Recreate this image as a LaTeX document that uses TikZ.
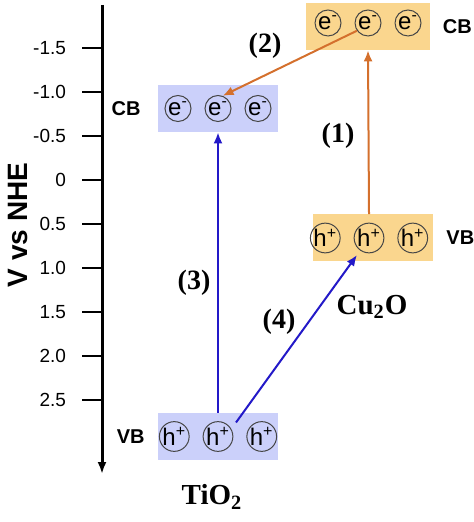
\documentclass[tikz,border=0pt]{standalone}
\usepackage{fontspec}
\setmainfont{Liberation Serif}
\setsansfont{Liberation Sans}
\usetikzlibrary{positioning,arrows.meta}
\definecolor{BandBlue}{RGB}{203,208,250}
\definecolor{BandOrange}{RGB}{250,214,142}
\definecolor{ArrowBlue}{RGB}{35,25,200}
\definecolor{ArrowOrange}{RGB}{212,112,45}
\definecolor{RingGray}{RGB}{70,70,70}

\begin{document}
\begin{tikzpicture}[x=0.5pt, y=-0.5pt, node distance=6.5pt,
    band/.style={rectangle, minimum width=60pt, minimum height=23.5pt, inner sep=0pt},
    carrier/.style={circle, draw=RingGray, line width=0.5pt, minimum size=13pt, inner sep=0pt, font=\sffamily\fontsize{12}{12}\selectfont},
    bandlabel/.style={font=\sffamily\bfseries\fontsize{10}{10}\selectfont},
    steplabel/.style={font=\bfseries\fontsize{14}{14}\selectfont},
    ticklabel/.style={font=\sffamily\fontsize{9.5}{9.5}\selectfont},
    transfer/.style={line width=1pt, -{Latex[length=5.5pt,width=4.5pt]}}]
    \useasboundingbox (0,0) rectangle (474,522);

    % potential axis
    \coordinate (axtop) at (102,5);
    \coordinate (axbot) at (102,474);
    \draw[line width=1.5pt, -{Latex[length=6pt,width=4.5pt]}] (axtop) -- (axbot);
    \foreach \v in {-1.5,-1.0,-0.5,0,0.5,1.0,1.5,2.0,2.5} {
      \coordinate (tick) at (102,{180+88*(\v)});
      \draw[line width=1.4pt] (tick) -- ++(-20,0) node[ticklabel, left=4pt] {\v};
    }
    \node[rotate=90, font=\sffamily\bfseries\fontsize{14}{14}\selectfont] (vaxis) at (18,225) {V vs NHE};

    % TiO2 bands
    \node[band, fill=BandBlue] (tcb) at (218,108.5) {};
    \node[carrier] (tcb2) at (tcb) {e\textsuperscript{-}};
    \node[carrier, left=of tcb2] (tcb1) {e\textsuperscript{-}};
    \node[carrier, right=of tcb2] (tcb3) {e\textsuperscript{-}};
    \node[bandlabel, left=5pt of tcb] (tcblabel) {CB};

    \node[band, fill=BandBlue] (tvb) at (218,436.5) {};
    \node[carrier] (tvb2) at (tvb) {h\textsuperscript{+}};
    \node[carrier, left=of tvb2] (tvb1) {h\textsuperscript{+}};
    \node[carrier, right=of tvb2] (tvb3) {h\textsuperscript{+}};
    \node[bandlabel, left=3pt of tvb] (tvblabel) {VB};

    \node[font=\bfseries\fontsize{14.5}{14.5}\selectfont] (tio2) at (212,497) {TiO\textsubscript{2}};

    % Cu2O bands
    \node[band, fill=BandOrange, minimum width=62pt] (cucb) at (367.5,26.5) {};
    \node[carrier] (cucb2) at (368,23) {e\textsuperscript{-}};
    \node[carrier, left=of cucb2] (cucb1) {e\textsuperscript{-}};
    \node[carrier, right=of cucb2] (cucb3) {e\textsuperscript{-}};
    \node[bandlabel, right=3pt of cucb] (cucblabel) {CB};

    \node[band, fill=BandOrange] (cuvb) at (373,238) {};
    \node[carrier] (cuvb2) at (369,238) {h\textsuperscript{+}};
    \node[carrier, left=of cuvb2] (cuvb1) {h\textsuperscript{+}};
    \node[carrier, right=of cuvb2] (cuvb3) {h\textsuperscript{+}};
    \node[bandlabel, right=3pt of cuvb] (cuvblabel) {VB};

    \node[font=\bfseries\fontsize{14.5}{14.5}\selectfont] (cu2o) at (372,307) {Cu\textsubscript{2}O};

    % charge transfer
    \draw[transfer, ArrowOrange] (cuvb2 |- cuvb.north) -- (cucb2 |- cucb.south);
    \draw[transfer, ArrowOrange] (cucb2.215) -- (tcb2.70);
    \draw[transfer, ArrowBlue] (tvb2 |- tvb.north) -- (tcb2 |- tcb.south);
    \draw[transfer, ArrowBlue] ([shift={(18,-14)}]tvb2.center) -- ([shift={(-12,17)}]cuvb2.center);

    \node[steplabel] (s1) at (338,136) {(1)};
    \node[steplabel] (s2) at (265,46) {(2)};
    \node[steplabel] (s3) at (194,283) {(3)};
    \node[steplabel] (s4) at (279,322) {(4)};
  \end{tikzpicture}
\end{document}
